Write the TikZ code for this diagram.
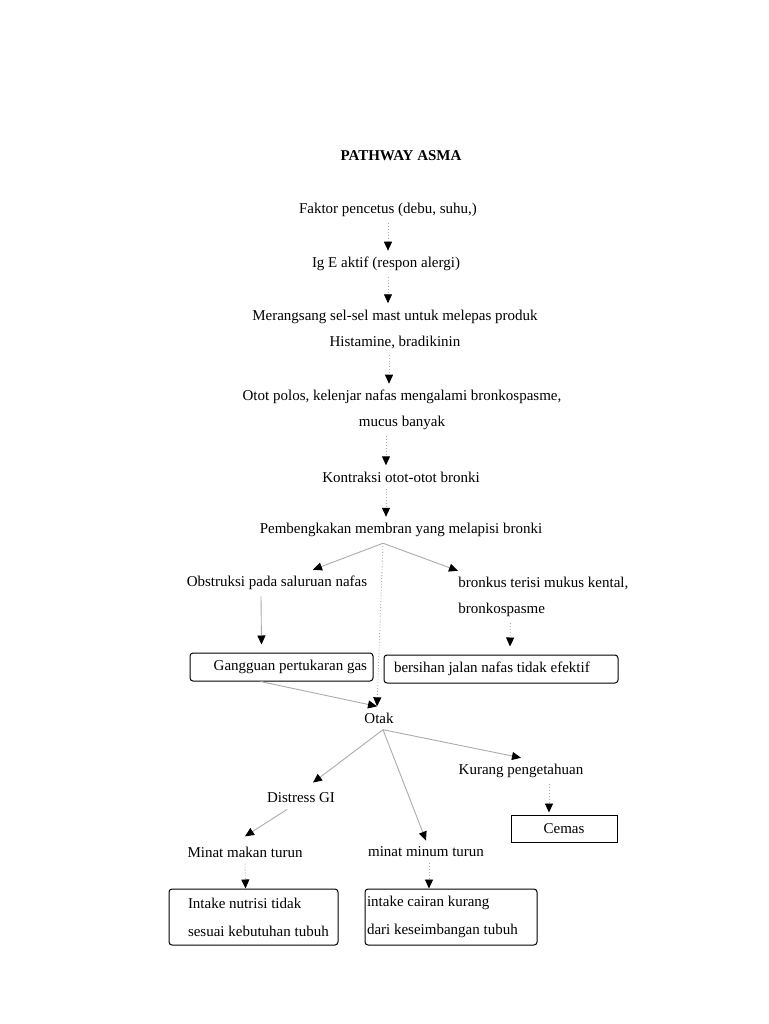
\documentclass[tikz,border=0pt]{standalone}
\usepackage{fontspec}
\setmainfont{Liberation Serif}
\usepackage{tikz}
\usetikzlibrary{arrows.meta}
\tikzstyle{txt} = [inner sep=3pt, font=\fontsize{7.5}{13}\selectfont]
\tikzstyle{box} = [rectangle, draw, line width=0.5pt, rounded corners=1.5pt, inner ysep=2pt, font=\fontsize{7.5}{14}\selectfont]
\tikzstyle{line} = [draw, gray!65, line width=0.45pt, -{Triangle[black, length=4.5pt, width=4pt]}]
\tikzstyle{dline} = [line, densely dotted]

\begin{document}
\begin{tikzpicture}[x=0.5pt, y=-0.5pt]
    \fill[white] (0,0) rectangle (768,1024);
    \useasboundingbox (0,0) rectangle (768,1024);

    % Nodes
    \node [txt, font=\fontsize{7.5}{9}\bfseries] (judul) at (401,156) {PATHWAY ASMA};
    \node [txt] (faktor) at (388,210) {Faktor pencetus (debu, suhu,)};
    \node [txt] (ige) at (386,264) {Ig E aktif (respon alergi)};
    \node [txt, align=center] (merangsang) at (395,329) {Merangsang sel-sel mast untuk melepas produk\\Histamine, bradikinin};
    \node [txt, align=center] (otot) at (402,410) {Otot polos, kelenjar nafas mengalami bronkospasme,\\mucus banyak};
    \node [txt] (kontraksi) at (401,477) {Kontraksi otot-otot bronki};
    \node [txt] (pemb) at (401,530) {Pembengkakan membran yang melapisi bronki};
    \node [txt] (obstruksi) at (277,583) {Obstruksi pada saluruan nafas};
    \node [txt, align=left, anchor=west] (bronkus) at (452,597) {bronkus terisi mukus kental,\\bronkospasme};
    \node [box, minimum width=91.5pt, minimum height=14pt, text width=85.5pt, inner xsep=3pt, align=flush right] (gangguan) at (281.5,667) {Gangguan pertukaran gas};
    \node [box, minimum width=117pt, minimum height=14pt, text width=107pt, inner xsep=5pt, align=flush left] (bersihan) at (501,669) {bersihan jalan nafas tidak efektif};
    \node [txt] (otak) at (379,718) {Otak};
    \node [txt] (kurang) at (521,771) {Kurang pengetahuan};
    \node [box, rounded corners=0pt, minimum width=53pt, minimum height=13.5pt, inner sep=0pt] (cemas) at (564,828.5) {Cemas};
    \node [txt] (distress) at (301,798) {Distress GI};
    \node [txt] (makan) at (245,852) {Minat makan turun};
    \node [txt] (minum) at (426,852) {minat minum turun};
    \node [box, minimum width=84.5pt, minimum height=28pt, text width=80.5pt, inner xsep=2pt, align=flush left] (intakea) at (253.5,917) {\hspace*{7.5pt}Intake nutrisi tidak\\\hspace*{7.5pt}sesuai kebutuhan tubuh};
    \node [box, minimum width=86pt, minimum height=28pt, text width=84pt, inner xsep=1pt, align=flush left] (intakeb) at (451,917) {intake cairan kurang\\dari keseimbangan tubuh};

    % split points
    \coordinate (pembout) at ([xshift=-9pt]pemb.south);
    \coordinate (otakout) at ([xshift=2pt]otak.south);

    % arrows
    \draw [dline] (faktor.south) -- (faktor.south |- ige.north);
    \draw [dline] ([xshift=1pt]ige.south) -- ([xshift=1pt]ige.south |- merangsang.north);
    \draw [dline] ([xshift=-3pt]merangsang.south) -- ([xshift=-3pt]merangsang.south |- otot.north);
    \draw [dline] ([xshift=-8pt]otot.south) -- ([xshift=-8pt]otot.south |- kontraksi.north);
    \draw [dline] ([xshift=-7.5pt]kontraksi.south) -- ([xshift=-7.5pt]kontraksi.south |- pemb.north);
    \draw [line] (pembout) -- ([xshift=18pt]obstruksi.north);
    \draw [line] (pembout) -- ([xshift=3pt]bronkus.north west);
    \draw [dline] (pembout) -- ([xshift=-1pt]otak.north);
    \draw [line] ([xshift=-8pt]obstruksi.south) -- ([xshift=-10pt,yshift=4pt]gangguan.north);
    \draw [dline] ([xshift=-16.5pt]bronkus.south) -- ([xshift=4.5pt,yshift=4pt]bersihan.north);
    \draw [line] ([xshift=-10.5pt]gangguan.south) -- ([xshift=-1pt]otak.north);
    \draw [line] (otakout) -- ([xshift=6pt,yshift=2pt]distress.north);
    \draw [line] (otakout) -- (minum.north);
    \draw [line] (otakout) -- (kurang.north);
    \draw [dline] ([xshift=14pt]kurang.south) -- ([xshift=-7.5pt,yshift=1pt]cemas.north);
    \draw [line] ([xshift=-7pt]distress.south) -- ([yshift=2pt]makan.north);
    \draw [dline] (makan.south) -- ([xshift=-4pt]intakea.north);
    \draw [dline] ([xshift=1.5pt]minum.south) -- ([xshift=-11pt]intakeb.north);

\end{tikzpicture}
\end{document}
